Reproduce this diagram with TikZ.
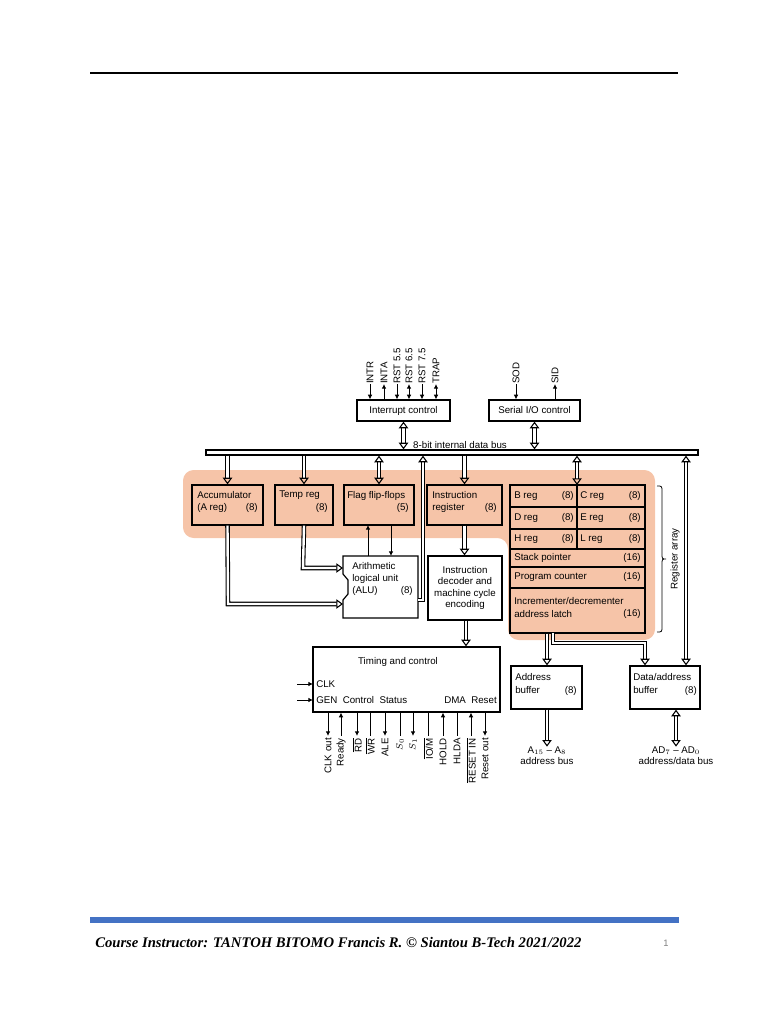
\documentclass[tikz,border=0pt]{standalone}
\usepackage{fontspec}
\setmainfont{Liberation Sans}
\newfontfamily\footfont{Liberation Serif}
\usetikzlibrary{arrows.meta,calc}
\definecolor{orng}{RGB}{246,196,168}
\definecolor{blu}{RGB}{68,114,196}
\newcommand\bx[6]{\node[#6, minimum width={(#4-#2)*0.75pt}, minimum height={(#5-#3)*0.75pt}] (#1) at ({(#2+#4)/2},{(#3+#5)/2}) {};}
\tikzset{
 box/.style={draw, line width=0.9pt, inner sep=0pt, fill=white},
 obox/.style={draw, line width=0.9pt, inner sep=0pt, fill=orng},
 txt/.style={font=\fontsize{7.3}{8.5}\selectfont, inner sep=0pt},
 rtxt/.style={font=\fontsize{7.3}{8.5}\selectfont, inner sep=0pt, rotate=90, anchor=east},
 dbl/.style={double, double distance=1.8pt, line width=0.8pt, -{Triangle[open,length=5pt,width=7pt,line width=0.8pt]}},
 dbb/.style={double, double distance=1.8pt, line width=0.8pt, {Triangle[open,length=5pt,width=7pt,line width=0.8pt]}-{Triangle[open,length=5pt,width=7pt,line width=0.8pt]}},
 sarr/.style={line width=0.7pt, -{Latex[length=3.5pt,width=3.5pt]}},
 sbarr/.style={line width=0.7pt, {Latex[length=3.5pt,width=3.5pt]}-{Latex[length=3.5pt,width=3.5pt]}},
}
\begin{document}
\begin{tikzpicture}[x=0.75pt,y=-0.75pt]
\useasboundingbox (0,0) rectangle (768,1024);
\draw[line width=0.8pt] (90,73) coordinate (tl) -- (678,73) coordinate (tr);
% orange region
\fill[orng, rounded corners=8pt] (183,470) -- (655,470) -- (655,640) -- (508,640) -- (508,538) -- (183,538) -- cycle;
% top boxes
\bx{intc}{357}{400}{450}{421}{box}
\node[txt] at (intc) {Interrupt control};
\bx{ser}{489}{400}{580}{421}{box}
\node[txt] at (ser) {Serial I/O control};
% bus
\bx{bus}{206}{450}{698}{455}{box}
\node[txt] (buslbl) at (460,445) {8-bit internal data bus};
\draw[dbb] (intc.south) -- (bus.north -| intc.south);
\draw[dbb] (ser.south) -- (bus.north -| ser.south);
% interrupt signals
\foreach \x/\l in {370/INTR, 384/INTA, 397/RST 5.5, 409/RST 6.5, 422/RST 7.5, 436/TRAP}{
 \node[rtxt, anchor=west] (s\x) at (\x,384) {\l};
}
\draw[sarr] (s370.west) -- (s370.west |- intc.north);
\draw[sarr] (s384.west |- intc.north) -- (s384.west);
\draw[sarr] (s397.west) -- (s397.west |- intc.north);
\draw[sbarr] (s409.west) -- (s409.west |- intc.north);
\draw[sarr] (s422.west) -- (s422.west |- intc.north);
\draw[sbarr] (s436.west) -- (s436.west |- intc.north);
\node[rtxt, anchor=west] (sod) at (516,384) {SOD};
\node[rtxt, anchor=west] (sid) at (555,384) {SID};
\draw[sarr] (sod.west) -- (sod.west |- ser.north);
\draw[sarr] (sid.west |- ser.north) -- (sid.west);
% register boxes
\bx{acc}{192}{485}{263}{525}{obox}
\node[txt, anchor=north west] at (197,491) {Accumulator};
\node[txt, anchor=north west] at (197,503) {(A reg)};
\node[txt, anchor=north east] at (258,503) {(8)};
\bx{tmp}{275}{485}{333}{525}{obox}
\node[txt, anchor=north west] at (279,491) {Temp reg};
\node[txt, anchor=north east] at (328,503) {(8)};
\bx{flag}{344}{485}{414}{525}{obox}
\node[txt, anchor=north west] at (347,491) {Flag flip-flops};
\node[txt, anchor=north east] at (409,503) {(5)};
\bx{ir}{427}{485}{502}{525}{obox}
\node[txt, anchor=north west] at (432,491) {Instruction};
\node[txt, anchor=north west] at (432,503) {register};
\node[txt, anchor=north east] at (497,503) {(8)};
% register array
\bx{ra}{510}{485}{645}{633}{obox}
\draw[line width=0.9pt] (ra.west |- 0,507) -- (ra.east |- 0,507) (ra.west |- 0,529) -- (ra.east |- 0,529)
 (ra.west |- 0,549) -- (ra.east |- 0,549) (ra.west |- 0,567) -- (ra.east |- 0,567) (ra.west |- 0,588) -- (ra.east |- 0,588)
 (577,485) -- (577,549);
\foreach \y/\a/\b in {496/B reg/C reg, 518/D reg/E reg, 539/H reg/L reg}{
 \node[txt, anchor=west] at (514,\y) {\a};
 \node[txt, anchor=east] at (574,\y) {(8)};
 \node[txt, anchor=west] at (580,\y) {\b};
 \node[txt, anchor=east] at (641,\y) {(8)};
}
\node[txt, anchor=west] at (514,558) {Stack pointer};
\node[txt, anchor=east] at (641,558) {(16)};
\node[txt, anchor=west] at (514,577) {Program counter};
\node[txt, anchor=east] at (641,577) {(16)};
\node[txt, anchor=west] at (514,601) {Incrementer/decrementer};
\node[txt, anchor=west] at (514,614) {address latch};
\node[txt, anchor=east] at (641,614) {(16)};
% brace
\draw[line width=0.6pt] (657,486) .. controls (662,486) .. (662,492) -- (662,553) .. controls (662,559) .. (666,559) .. controls (662,559) .. (662,565) -- (662,626) .. controls (662,632) .. (657,632);
\node[txt, rotate=90] (ralbl) at (675,559) {Register array};
% ALU
\draw[line width=0.9pt, fill=white] (343,556) -- (418,556) -- (418,618) -- (343,618) -- (343,600) -- (348,594) -- (348,580) -- (343,574) -- cycle;
\coordinate (alu) at (380,587);
\node[txt, anchor=north west] at (352,562) {Arithmetic};
\node[txt, anchor=north west] at (352,574) {logical unit};
\node[txt, anchor=north west] at (352,586) {(ALU)};
\node[txt, anchor=north east] at (413,586) {(8)};
\bx{dec}{428}{556}{502}{620}{box}
\node[txt, align=center] at (dec) {Instruction\\decoder and\\machine cycle\\encoding};
% bus to registers
\draw[dbl] (bus.south -| acc.north) -- (acc.north);
\draw[dbl] (bus.south -| tmp.north) -- (tmp.north);
\draw[dbb] (bus.south -| flag.north) -- (flag.north);
\draw[dbl] (bus.south -| ir.north) -- (ir.north);
\draw[dbb] (bus.south -| 577,0) -- (577,485);
\draw[dbl] (418,600) -- (423,600) -- (bus.south -| 423,0);
\draw[dbl] (acc.south) -- (228,604) -- (343,604);
\draw[dbl] (tmp.south) -- (303,568) -- (343,568);
\draw[sarr] (368,556) -- (368 ,525);
\draw[sarr] (391,525) -- (391,556);
\draw[dbl] (ir.south) -- (dec.north -| ir.south);
% timing and control
\bx{tc}{313}{647}{500}{712}{box}
\draw[dbl] (dec.south -| 466,0) -- (tc.north -| 466,0);
\node[txt] at (398,662) {Timing and control};
\node[txt, anchor=west] at (316,684) {CLK};
\node[txt, anchor=west] at (316,700) {GEN\ \ Control\ \ Status};
\node[txt, anchor=east] at (497,700) {DMA\ \ Reset};
\draw[sarr] (297,684) -- (313,684);
\draw[sarr] (297,700) -- (313,700);
\foreach \x/\l/\d in {328/CLK out/0, 341/Ready/1, 357/{$\overline{\mbox{RD}}$}/0, 370/{$\overline{\mbox{WR}}$}/2, 385/ALE/0, 400/{$S_0$}/2, 413/{$S_1$}/0, 428/{$\overline{\mbox{IO/M}}$}/2, 443/HOLD/1, 457/HLDA/2, 471/{$\overline{\mbox{RESET IN}}$}/1, 485/Reset out/0}{
 \node[rtxt] (b\x) at (\x,738) {\l};
 \ifnum\d=0 \draw[sarr] (tc.south -| \x,0) -- (\x,736); \fi
 \ifnum\d=1 \draw[sarr] (\x,736) -- (tc.south -| \x,0); \fi
 \ifnum\d=2 \draw[line width=0.7pt] (tc.south -| \x,0) -- (\x,736); \fi
}
% buffers
\bx{ab}{511}{666}{582}{709}{box}
\node[txt, anchor=north west] at (515,673) {Address};
\node[txt, anchor=north west] at (515,686) {buffer};
\node[txt, anchor=north east] at (577,686) {(8)};
\bx{db}{630}{666}{700}{709}{box}
\node[txt, anchor=north west] at (633,673) {Data/address};
\node[txt, anchor=north west] at (633,686) {buffer};
\node[txt, anchor=north east] at (697,686) {(8)};
\draw[dbl] (ra.south -| 547,0) -- (ab.north -| 547,0);
\draw[dbl] (553,633) -- (553,643) -- (645,643) -- (db.north -| 645,0);
\draw[dbb] (bus.south -| 686,0) -- (db.north -| 686,0);
\node[txt, align=center] (abus) at (547,756) {A$_{15}$ -- A$_8$\\address bus};
\node[txt, align=center] (adbus) at (676,756) {AD$_7$ -- AD$_0$\\address/data bus};
\draw[dbl] (ab.south -| 547,0) -- (abus.north);
\draw[dbb] (db.south -| 676,0) -- (adbus.north);
% footer
\draw[blu, line width=4.5pt] (90,920) coordinate (bl) -- (679,920) coordinate (br);
\node[font=\footfont\bfseries\itshape\fontsize{11}{13}\selectfont, anchor=west, inner sep=0pt] (foot) at (95,943) {Course Instructor: TANTOH BITOMO Francis R. © Siantou B-Tech 2021/2022};
\node[font=\fontsize{7}{8}\selectfont, text=gray, inner sep=0pt] (pg) at (666,943) {1};
\end{tikzpicture}
\end{document}
